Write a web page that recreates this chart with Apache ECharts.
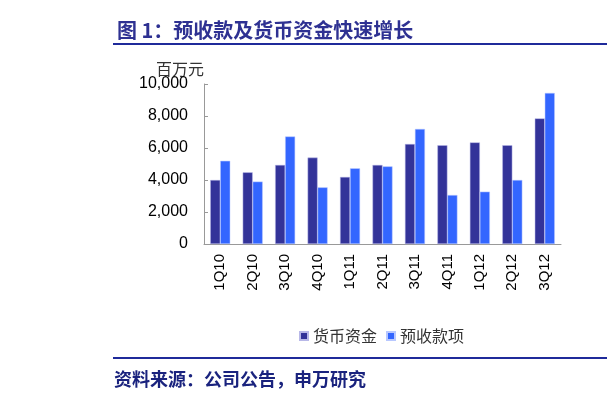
<!DOCTYPE html>
<html><head><meta charset="utf-8">
<script src="https://cdn.jsdelivr.net/npm/echarts@6/dist/echarts.min.js"></script>
<style>html,body{margin:0;padding:0;background:#fff}#c{width:607px;height:411px}</style>
</head><body><div id="c"></div>
<script>
const categories = ['1Q10','2Q10','3Q10','4Q10','1Q11','2Q11','3Q11','4Q11','1Q12','2Q12','3Q12'];
const cash = [4000, 4480, 4940, 5400, 4190, 4940, 6250, 6170, 6350, 6170, 7850];
const advance = [5200, 3900, 6720, 3540, 4730, 4850, 7190, 3060, 3270, 4000, 9440];
const seriesNames = ['货币资金', '预收款项'];
const titleText = '图 1：预收款及货币资金快速增长';
const sourceText = '资料来源：公司公告，申万研究';
const unitText = '百万元';

const chart = echarts.init(document.getElementById('c'));
const cjk = '"Noto Sans CJK SC", sans-serif';
chart.setOption({
  animation: false,
  grid: { left: 204, right: 46, top: 84, bottom: 167, containLabel: false },
  legend: {
    data: seriesNames, left: 294, top: 323, itemWidth: 8, itemHeight: 8, itemGap: 9, itemTextGap: 7,
    icon: 'rect',
    textStyle: { fontFamily: cjk, fontSize: 16, color: '#333' }
  },
  xAxis: {
    type: 'category', data: categories,
    axisLine: { lineStyle: { color: '#999', width: 1 } },
    axisTick: { inside: true, length: 5, lineStyle: { color: '#999' } },
    axisLabel: { rotate: 90, margin: 10, fontFamily: 'Arial, "Liberation Sans"', fontSize: 15, color: '#000' }
  },
  yAxis: {
    type: 'value', min: 0, max: 10000, interval: 2000,
    axisLine: { show: true, lineStyle: { color: '#999' } },
    axisTick: { show: true, inside: true, length: 4, lineStyle: { color: '#999' } },
    splitLine: { show: false },
    axisLabel: { margin: 16, fontFamily: 'Arial, "Liberation Sans"', fontSize: 16, color: '#000',
      formatter: v => v.toLocaleString('en-US') }
  },
  series: [
    { name: seriesNames[0], type: 'bar', data: cash, barWidth: 10, barGap: '0%',
      itemStyle: { color: '#333399', borderColor: '#b8b8e8', borderWidth: 0.5 } },
    { name: seriesNames[1], type: 'bar', data: advance, barWidth: 10, barGap: '0%',
      itemStyle: { color: '#3366FF', borderColor: '#b8c8ff', borderWidth: 0.5 } }
  ],
  graphic: [
    { type: 'text', left: 117, top: 20, style: { text: titleText, font: 'bold 20px ' + cjk, fill: '#2e3192' } },
    { type: 'line', shape: { x1: 113, y1: 44, x2: 607, y2: 44 }, style: { stroke: '#1f2a9a', lineWidth: 2 } },
    { type: 'text', left: 156, top: 61, style: { text: unitText, font: '16px ' + cjk, fill: '#333' } },
    { type: 'line', shape: { x1: 113, y1: 358, x2: 607, y2: 358 }, style: { stroke: '#1f2a9a', lineWidth: 2 } },
    { type: 'text', left: 114, top: 370, style: { text: sourceText, font: 'bold 18px ' + cjk, fill: '#1a237e' } }
  ]
});
</script></body></html>
